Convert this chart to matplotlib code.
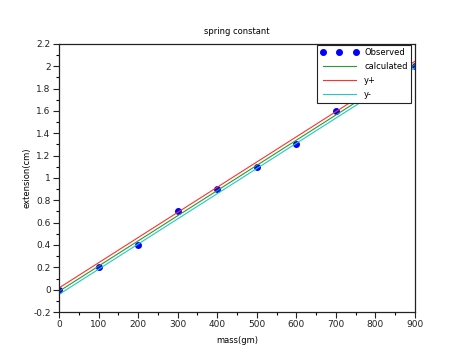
import matplotlib
matplotlib.use('Agg')
import matplotlib.pyplot as plt
import numpy as np
from matplotlib.ticker import MultipleLocator

mass = [0, 100, 200, 300, 400, 500, 600, 700, 800, 900]
extension = [0, 0.2, 0.4, 0.7, 0.9, 1.1, 1.3, 1.6, 1.8, 2.0]
offset_plus = 0.03
offset_minus = 0.028

# least squares fit
m, c = np.polyfit(mass, extension, 1)
x = np.array(mass, dtype=float)
y_calc = m * x + c

fig = plt.figure(figsize=(4.74, 3.57), dpi=100)
ax = fig.add_axes([0.1245, 0.126, 0.751, 0.751])

ax.plot(mass, extension, 'o', color='#0000ff', markersize=4, label='Observed')
ax.plot(x, y_calc, color='#2a9a2a', lw=0.8, label='calculated')
ax.plot(x, y_calc + offset_plus, color='#ff3030', lw=0.8, label='y+')
ax.plot(x, y_calc - offset_minus, color='#20c8c8', lw=0.8, label='y-')

ax.set_xlim(0, 900)
ax.set_ylim(-0.2, 2.2)
ax.xaxis.set_major_locator(MultipleLocator(100))
ax.xaxis.set_minor_locator(MultipleLocator(50))
ax.yaxis.set_major_locator(MultipleLocator(0.2))
ax.yaxis.set_minor_locator(MultipleLocator(0.1))
ax.yaxis.set_major_formatter(plt.FuncFormatter(lambda v, p: ('%g' % round(v, 1))))
ax.tick_params(which='major', direction='out', length=4, width=0.8, labelsize=6.5,
               colors='#222222', pad=2)
ax.tick_params(which='minor', direction='out', length=2.5, width=0.8)
ax.tick_params(top=False, right=False)
for s in ax.spines.values():
    s.set_linewidth(0.9)
    s.set_color('#222222')

ax.set_xlabel('mass(gm)', fontsize=6, labelpad=5)
ax.set_ylabel('extension(cm)', fontsize=6, labelpad=1)
ax.set_title('spring constant', fontsize=6, pad=7)

leg = ax.legend(loc='upper right', bbox_to_anchor=(0.989, 0.996), borderaxespad=0,
                fontsize=6, numpoints=3, fancybox=False, framealpha=1,
                edgecolor='#222222', handlelength=4.6, borderpad=0.4,
                labelspacing=0.6, handletextpad=0.7)
leg.get_frame().set_linewidth(0.8)

fig.savefig('out.png', dpi=100)
